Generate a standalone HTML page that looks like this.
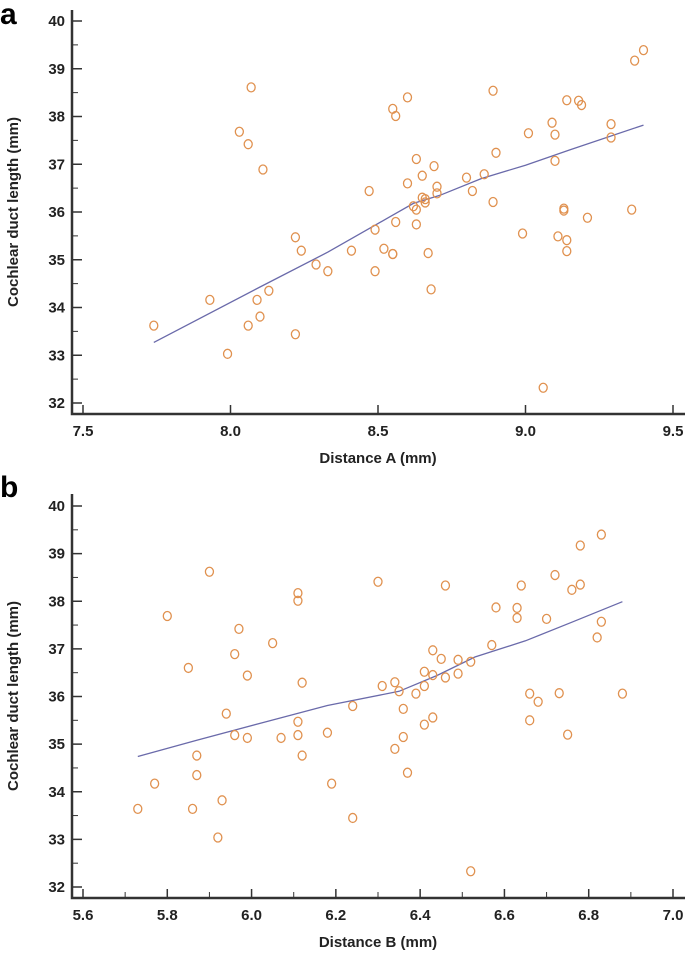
<!DOCTYPE html>
<html><head><meta charset="utf-8"><style>
html,body{margin:0;padding:0;background:#fff;}
svg{display:block;font-family:"Liberation Sans",Arial,sans-serif;}
</style></head><body>
<svg id="chart" width="685" height="953" viewBox="0 0 685 953"></svg>
<script>
// Panel a data
const xA = [7.74,7.93,7.99,8.03,8.06,8.06,8.07,8.09,8.10,8.11,8.13,8.22,8.22,8.24,8.29,8.33,8.41,8.47,8.49,8.49,8.52,8.55,8.55,8.55,8.56,8.56,8.60,8.60,8.62,8.63,8.63,8.63,8.65,8.65,8.66,8.66,8.67,8.68,8.69,8.70,8.70,8.80,8.82,8.86,8.89,8.89,8.90,8.99,9.01,9.06,9.09,9.10,9.10,9.11,9.13,9.13,9.14,9.14,9.14,9.18,9.19,9.21,9.29,9.29,9.36,9.37,9.40];
const yA = [33.62,34.16,33.03,37.68,37.42,33.62,38.61,34.16,33.81,36.89,34.35,33.44,35.47,35.19,34.90,34.76,35.19,36.44,34.76,35.63,35.23,35.12,35.12,38.16,38.01,35.79,38.40,36.60,36.12,35.74,36.05,37.11,36.30,36.76,36.27,36.20,35.14,34.38,36.96,36.53,36.39,36.72,36.44,36.79,38.54,36.21,37.24,35.55,37.65,32.32,37.87,37.62,37.07,35.49,36.07,36.03,38.34,35.41,35.18,38.33,38.24,35.88,37.84,37.56,36.05,39.17,39.39];
const fitXA = [7.74,8.10,8.33,8.54,8.62,8.71,8.85,9.00,9.15,9.40];
const fitYA = [33.27,34.43,35.16,35.90,36.18,36.35,36.70,36.98,37.30,37.82];
const xTicksA = ["7.5","8.0","8.5","9.0","9.5"];
// Panel b data
const xB = [5.73,5.77,5.80,5.85,5.86,5.87,5.87,5.90,5.92,5.93,5.94,5.96,5.96,5.97,5.99,5.99,6.05,6.07,6.11,6.11,6.11,6.11,6.12,6.12,6.18,6.19,6.24,6.24,6.30,6.31,6.34,6.34,6.35,6.36,6.36,6.37,6.39,6.41,6.41,6.41,6.43,6.43,6.43,6.45,6.46,6.46,6.49,6.49,6.52,6.52,6.57,6.58,6.63,6.63,6.64,6.66,6.66,6.68,6.70,6.72,6.73,6.75,6.76,6.78,6.78,6.82,6.83,6.83,6.88];
const yB = [33.64,34.17,37.69,36.60,33.64,34.76,34.35,38.62,33.04,33.82,35.64,35.19,36.89,37.42,35.13,36.44,37.12,35.13,35.19,38.01,38.17,35.47,36.29,34.76,35.24,34.17,33.45,35.80,38.41,36.22,34.90,36.30,36.11,35.74,35.15,34.40,36.06,36.22,36.52,35.41,36.97,36.45,35.56,36.79,38.33,36.40,36.77,36.48,36.73,32.33,37.08,37.87,37.86,37.65,38.33,36.06,35.50,35.89,37.63,38.55,36.07,35.20,38.24,39.17,38.35,37.24,39.40,37.57,36.06];
const fitXB = [5.73,5.87,6.03,6.18,6.35,6.44,6.53,6.65,6.76,6.88];
const fitYB = [34.74,35.08,35.46,35.81,36.11,36.44,36.83,37.17,37.56,37.99];
const xTicksB = ["5.6","5.8","6.0","6.2","6.4","6.6","6.8","7.0"];
const yTicks = ["32","33","34","35","36","37","38","39","40"];

const NS="http://www.w3.org/2000/svg";
const svg=document.getElementById('chart');
function mk(tag,attrs,parent){const e=document.createElementNS(NS,tag);for(const k in attrs)e.setAttribute(k,attrs[k]);(parent||svg).appendChild(e);return e;}

function panel(cfg){
  const g=mk('g',{});
  
  
  const sx=v=>cfg.x0px+(v-cfg.xmin)/(cfg.xmax-cfg.xmin)*(cfg.x1px-cfg.x0px);
  const sy=v=>cfg.y32+(32-v)/8*(cfg.y32-cfg.y40)*-1*-1 - 0; // placeholder
  const syy=v=>cfg.y32-(v-32)/8*(cfg.y32-cfg.y40);
  // axes
  const ax=mk('path',{d:`M72 ${cfg.axTop} L72 ${cfg.axY} L685 ${cfg.axY}`,fill:'none',stroke:'#333',"stroke-width":2.5},g);
  
  
  // y ticks
  yTicks.forEach((t,i)=>{
    const v=+t,y=syy(v);
    mk('line',{x1:72,x2:82,y1:y,y2:y,stroke:'#333',"stroke-width":1.5},g);
    if(i<yTicks.length-1){const ym=syy(v+0.5);mk('line',{x1:72,x2:78,y1:ym,y2:ym,stroke:'#333',"stroke-width":1},g);}
    const tx=mk('text',{x:65,y:y+5,"text-anchor":'end',"font-size":15,"font-weight":'bold',fill:'#222'},g);
    tx.textContent=t;
    
    
  });
  // x ticks
  cfg.xt.forEach((t,i)=>{
    const x=sx(+t);
    mk('line',{x1:x,x2:x,y1:cfg.axY,y2:cfg.axY-9,stroke:'#333',"stroke-width":1.5},g);
    if(cfg.minor && i<cfg.xt.length-1){const xm=sx(+t+cfg.minor);mk('line',{x1:xm,x2:xm,y1:cfg.axY,y2:cfg.axY-6,stroke:'#333',"stroke-width":1},g);}
    const tx=mk('text',{x:x,y:cfg.axY+22,"text-anchor":'middle',"font-size":15,"font-weight":'bold',fill:'#222'},g);
    tx.textContent=t;
    
    
  });
  // titles
  const xt=mk('text',{x:378,y:cfg.axY+49,"text-anchor":'middle',"font-size":15,"font-weight":'bold',fill:'#222'},g);
  xt.textContent=cfg.xtitle;
  
  
  const yc=(cfg.axTop+cfg.axY)/2;
  const yt=mk('text',{x:0,y:0,transform:`translate(18 ${yc}) rotate(-90)`,"text-anchor":'middle',"font-size":15,"font-weight":'bold',fill:'#222'},g);
  yt.textContent='Cochlear duct length (mm)';
  
  
  const pl=mk('text',{x:0,y:cfg.labelY,"font-size":30,"font-weight":'bold',fill:'#000'},g);
  pl.textContent=cfg.label;
  
  
  // fit line
  const pts=cfg.fx.map((v,i)=>sx(v).toFixed(1)+','+syy(cfg.fy[i]).toFixed(1)).join(' ');
  const fl=mk('polyline',{points:pts,fill:'none',stroke:'#6a6aaa',"stroke-width":1.3},g);
  
  
  // points
  cfg.px.forEach((v,i)=>{
    const c=mk('ellipse',{cx:sx(v),cy:syy(cfg.py[i]),rx:4,ry:4.5,fill:'none',stroke:'#e0914f',"stroke-width":1.3},g);
    
    
  });
}
panel({name:'panel-a',label:'a',labelY:24,axTop:10,axY:414,y40:21,y32:403,x0px:83,x1px:673,xmin:7.5,xmax:9.5,xt:xTicksA,minor:0,xtitle:'Distance A (mm)',px:xA,py:yA,fx:fitXA,fy:fitYA});
panel({name:'panel-b',label:'b',labelY:497,axTop:494,axY:898,y40:506,y32:887,x0px:83,x1px:673,xmin:5.6,xmax:7.0,xt:xTicksB,minor:0.1,xtitle:'Distance B (mm)',px:xB,py:yB,fx:fitXB,fy:fitYB});
</script>
</body></html>
